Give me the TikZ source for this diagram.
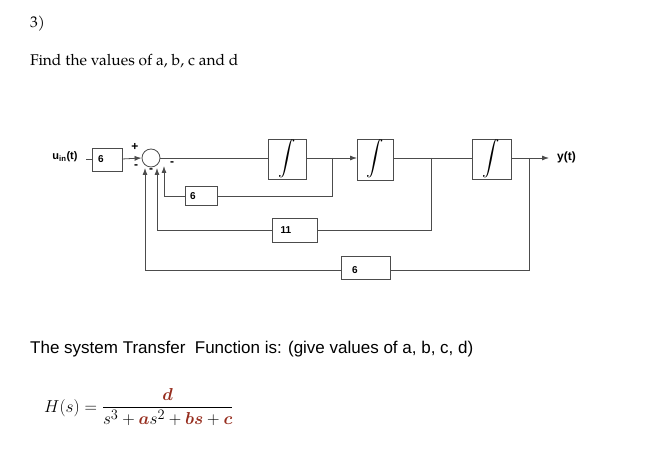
\documentclass[tikz,border=0pt]{standalone}
\usepackage{fontspec}
\usepackage{amsmath}
\newfontfamily\arial{Liberation Sans}
\newfontfamily\pal{TeX Gyre Pagella}
\usetikzlibrary{arrows.meta}
\definecolor{rb}{RGB}{150,45,30}
\tikzset{blk/.style={draw=black!70,line width=0.8pt},
 ln/.style={draw=black!70,line width=0.8pt},
 arr/.style={ln,-{Latex[length=7pt,width=5pt]}},
 lab/.style={font=\arial\bfseries\fontsize{10}{11}\selectfont,inner sep=0pt}}
\begin{document}
\begin{tikzpicture}[x=1pt,y=-1pt]
\useasboundingbox (0,0) rectangle (656,462);
\node[anchor=base west,inner sep=0pt,font=\pal\fontsize{15.5}{17}\selectfont] (q) at (30,28) {3)};
\node[anchor=base west,inner sep=0pt,font=\pal\fontsize{15.5}{17}\selectfont] (f) at (30,66) {Find the values of a, b, c and d};
% blocks
\node[lab,font=\arial\bfseries\fontsize{11}{12}\selectfont] (u) at (65,157) {u\textsubscript{in}(t)};
\path[blk] (92,148) rectangle (122,171); \node[lab] (g0) at (101,159) {6};
\coordinate (g0r) at (122,159);
\draw[ln] (86,159) -- (92,159);
\node[draw=black!70,line width=0.8pt,circle,minimum size=18pt,inner sep=0pt] (s) at (151,158) {};
\draw[arr] (g0r) -- (s.west);
\path[blk] (268,139) rectangle (306,179); \node[font=\fontsize{16}{18}\selectfont] (i1) at (287,159) {$\displaystyle\int$};
\path[blk] (357,139) rectangle (393,180); \node[font=\fontsize{16}{18}\selectfont] (i2) at (375,159) {$\displaystyle\int$};
\path[blk] (472,139) rectangle (511,179); \node[font=\fontsize{16}{18}\selectfont] (i3) at (491,159) {$\displaystyle\int$};
\draw[ln] (s.east) -- (268,158);
\draw[arr] (306,158) -- (357,158);
\draw[ln] (393,158) -- (472,158);
\coordinate (yo) at (549,158);
\draw[arr] (511,158) -- (yo);
\node[lab,font=\arial\bfseries\fontsize{12}{13}\selectfont,anchor=west] (y) at (557,157) {y(t)};
% feedback
\path[blk] (185,186) rectangle (217,205); \node[lab] (f1) at (193,196) {6};
\path[blk] (272,218) rectangle (317,242); \node[lab] (f2) at (286,230) {11};
\path[blk] (341,256) rectangle (390,279); \node[lab] (f3) at (355,270) {6};
\draw[ln] (332,158) |- (217,196);
\draw[arr] (185,196) -| (164,166);
\draw[ln] (431,158) |- (317,230);
\draw[arr] (272,230) -| (157,168);
\draw[ln] (529,158) |- (390,270);
\draw[arr] (341,270) -| (145,168);
\node[lab,font=\arial\bfseries\fontsize{12}{12}\selectfont] (p) at (135,147) {+};
\node[lab,font=\arial\bfseries\fontsize{12}{12}\selectfont] (m1) at (136,167) {-};
\node[lab,font=\arial\bfseries\fontsize{12}{12}\selectfont] (m2) at (151,171) {-};
\node[lab,font=\arial\bfseries\fontsize{12}{12}\selectfont] (m3) at (172,164) {-};
% text
\node[anchor=base west,inner sep=0pt,font=\arial\fontsize{17}{19}\selectfont] (t) at (30,353) {The system Transfer\ \ Function is: (give values of a, b, c, d)};
\node[anchor=west,inner sep=0pt,font=\fontsize{19}{23}\selectfont] (h) at (44,407) {$H(s)=\dfrac{\color{rb}\boldsymbol{d}}{s^3+\color{rb}\boldsymbol{a}\color{black}s^2+\color{rb}\boldsymbol{bs}\color{black}+\color{rb}\boldsymbol{c}}$};
\end{tikzpicture}
\end{document}
